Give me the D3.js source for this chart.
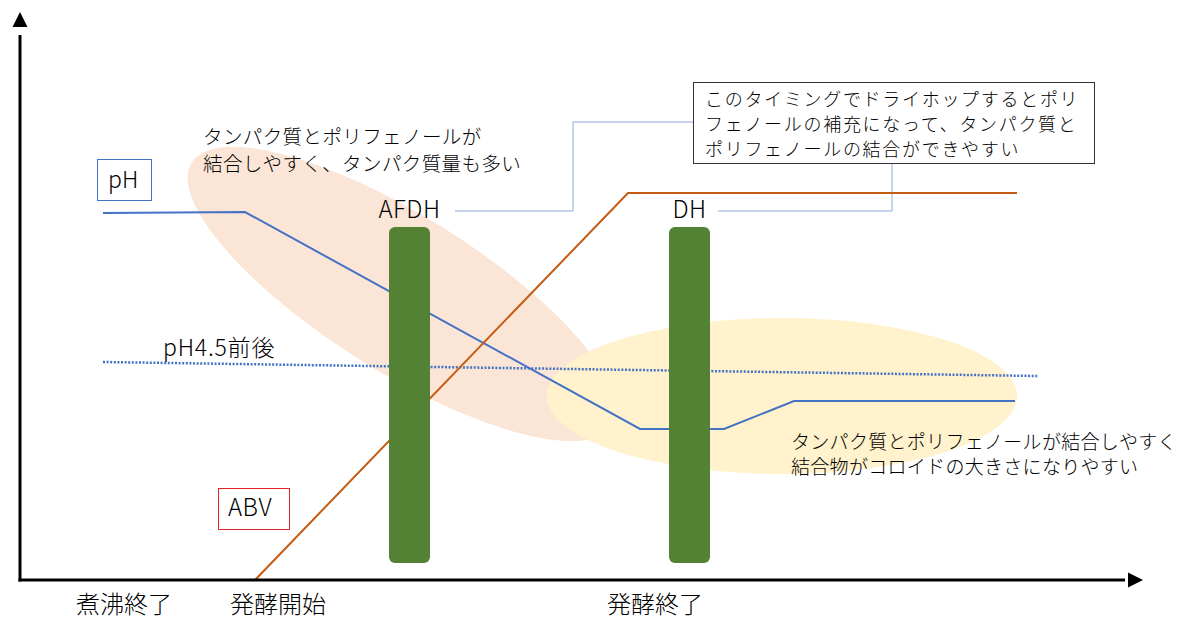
<!DOCTYPE html>
<html>
<head>
<meta charset="utf-8">
<script src="https://cdn.jsdelivr.net/npm/d3@7"></script>
<style>
  body { margin: 0; background: #fff; }
  text { font-family: "Noto Sans CJK JP", "Noto Sans", sans-serif; fill: #000; font-weight: 300; }
</style>
</head>
<body>
<div id="chart"></div>
<script>
// values (x: time units, y: relative level)
const phX = [8.3, 22.5, 62.0, 70.4, 77.4, 99.5]
const phY = [36.7, 36.8, 15.1, 15.1, 17.9, 17.9]
const refX = [8.3, 101.8]
const refY = [21.8, 20.4]
const abvX = [23.5, 60.8, 99.7]
const abvY = [0, 38.7, 38.7]
const hopNames = ['AFDH', 'DH']
const hopStart = [36.9, 64.9]
const hopEnd = [41.0, 69.0]
const hopTop = 35.3
const hopBottom = 1.7
const stageNames = ['煮沸終了', '発酵開始', '発酵終了']
const stageX = [10.4, 25.8, 63.5]

const width = 1200
const height = 636

const svg = d3.select('#chart').append('svg')
  .attr('width', width)
  .attr('height', height)

const x = d3.scaleLinear().domain([0, 112]).range([20, 1140])
const y = d3.scaleLinear().domain([0, 56.8]).range([580, 12])

// highlighted zones
svg.append('ellipse')
  .attr('cx', x(38.2)).attr('cy', y(28.6))
  .attr('rx', x(24.8) - x(0)).attr('ry', x(7.8) - x(0))
  .attr('transform', `rotate(32 ${x(38.2)} ${y(28.6)})`)
  .attr('fill', '#fbe5d6')

svg.append('ellipse')
  .attr('cx', x(76.2)).attr('cy', y(18.4))
  .attr('rx', x(23.5) - x(0)).attr('ry', x(7.8) - x(0))
  .attr('fill', '#fff2cc')

// zone texts
function multiText (lines, tx, ty, size, gap, spacing) {
  const t = svg.append('text')
    .attr('x', tx).attr('y', ty)
    .style('font-size', size + 'px')
    .style('letter-spacing', spacing + 'px')
  t.selectAll('tspan')
    .data(lines)
    .enter()
    .append('tspan')
    .attr('x', tx)
    .attr('dy', (d, i) => i === 0 ? 0 : gap)
    .text(d => d)
  return t
}

multiText(['タンパク質とポリフェノールが', '結合しやすく、タンパク質量も多い'], 203, 144, 19.5, 27, 0.4)
multiText(['タンパク質とポリフェノールが結合しやすく', '結合物がコロイドの大きさになりやすい'], 791, 449, 19, 24.5, 0.3)

// connectors for the callout
const connector = d3.line()
svg.append('path')
  .attr('d', connector([[455, 211], [573, 211], [573, 122], [693, 122]]))
  .attr('fill', 'none').attr('stroke', '#8faadc').attr('stroke-width', 1)
svg.append('path')
  .attr('d', connector([[718, 211], [892, 211], [892, 164]]))
  .attr('fill', 'none').attr('stroke', '#8faadc').attr('stroke-width', 1)

svg.append('rect')
  .attr('x', 693.5).attr('y', 82.5).attr('width', 401).attr('height', 81)
  .attr('fill', '#fff').attr('stroke', '#333').attr('stroke-width', 1)
multiText(['このタイミングでドライホップするとポリ', 'フェノールの補充になって、タンパク質と', 'ポリフェノールの結合ができやすい'], 705, 106, 18, 25, 1.7)

// lines
const line = d3.line().x(d => x(d[0])).y(d => y(d[1]))

svg.append('path')
  .attr('d', line(refX.map((v, i) => [v, refY[i]])))
  .attr('fill', 'none')
  .attr('stroke', '#4472c4')
  .attr('stroke-width', 2.5)
  .attr('stroke-dasharray', '2 1.6')

svg.append('path')
  .attr('d', line(phX.map((v, i) => [v, phY[i]])))
  .attr('fill', 'none')
  .attr('stroke', '#4472c4')
  .attr('stroke-width', 2)

svg.append('path')
  .attr('d', line(abvX.map((v, i) => [v, abvY[i]])))
  .attr('fill', 'none')
  .attr('stroke', '#c55a11')
  .attr('stroke-width', 2)

// dry hop bars
svg.selectAll('.hopBar')
  .data(hopNames)
  .enter()
  .append('rect')
  .attr('class', 'hopBar')
  .attr('x', (d, i) => x(hopStart[i]))
  .attr('y', y(hopTop))
  .attr('width', (d, i) => x(hopEnd[i]) - x(hopStart[i]))
  .attr('height', y(hopBottom) - y(hopTop))
  .attr('rx', 6)
  .attr('fill', '#548235')

svg.selectAll('.hopLabel')
  .data(hopNames)
  .enter()
  .append('text')
  .attr('class', 'hopLabel')
  .attr('x', (d, i) => x((hopStart[i] + hopEnd[i]) / 2))
  .attr('y', y(36.2))
  .attr('text-anchor', 'middle')
  .style('font-size', '24px')
  .style('letter-spacing', '0.5px')
  .text(d => d)

// labels
svg.append('text').attr('x', x(14.3)).attr('y', y(22.4))
  .style('font-size', '23px').style('letter-spacing', '0.8px').text('pH4.5前後')

svg.append('rect')
  .attr('x', 97.5).attr('y', 159.5).attr('width', 54).attr('height', 41)
  .attr('fill', '#fff').attr('stroke', '#4472c4').attr('stroke-width', 1)
svg.append('text').attr('x', 108).attr('y', 188)
  .style('font-size', '23px').text('pH')

svg.append('rect')
  .attr('x', 218.5).attr('y', 488.5).attr('width', 71).attr('height', 41)
  .attr('fill', '#fff').attr('stroke', '#e0282a').attr('stroke-width', 1)
svg.append('text').attr('x', 228).attr('y', 516)
  .style('font-size', '24px').style('letter-spacing', '0.5px').text('ABV')

// axes with arrows
svg.append('line')
  .attr('x1', x(0)).attr('y1', y(0) + 1.5)
  .attr('x2', x(0)).attr('y2', y(54.5))
  .attr('stroke', '#000').attr('stroke-width', 3)
svg.append('path')
  .attr('d', `M${x(0) - 7.5},${y(55.3)} L${x(0)},${y(56.8)} L${x(0) + 7.5},${y(55.3)} Z`)
  .attr('fill', '#000')

svg.append('line')
  .attr('x1', x(0) - 1.5).attr('y1', y(0))
  .attr('x2', x(110.5)).attr('y2', y(0))
  .attr('stroke', '#000').attr('stroke-width', 3)
svg.append('path')
  .attr('d', `M${x(110.8)},${y(0) - 7.5} L${x(112.3)},${y(0)} L${x(110.8)},${y(0) + 7.5} Z`)
  .attr('fill', '#000')

svg.selectAll('.stageLabel')
  .data(stageNames)
  .enter()
  .append('text')
  .attr('class', 'stageLabel')
  .attr('x', (d, i) => x(stageX[i]))
  .attr('y', 613)
  .attr('text-anchor', 'middle')
  .style('font-size', '24px')
  .text(d => d)
</script>
</body>
</html>
